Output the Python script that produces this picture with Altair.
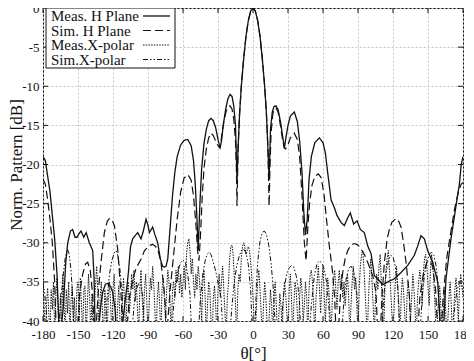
import altair as alt
import pandas as pd

# ---------------- data ----------------
series_names = ["Meas. H Plane", "Sim. H Plane", "Meas.X-polar", "Sim.X-polar"]
x_ticks = [-180, -150, -120, -90, -60, -30, 0, 30, 60, 90, 120, 150, 180]
y_ticks = [-40, -35, -30, -25, -20, -15, -10, -5, 0]

# Measured H-plane (theta deg, dB)
meas_h = [
    (-180, -19.0), (-178, -19.5), (-176, -21.5), (-174, -23.5), (-172, -26.5), (-170, -29.5),
    (-168, -34), (-166.5, -40), (-165, -42), (-162.5, -38), (-160.5, -32.5), (-158.8, -30),
    (-156.5, -28.5), (-154.6, -28.3), (-152.5, -29.3), (-150.8, -29.3), (-149, -28.8),
    (-147.4, -28.5), (-145.1, -29.3), (-143, -28.7), (-140.3, -30), (-137.4, -31),
    (-136.2, -34.6), (-135.2, -42), (-133, -42), (-130.5, -38), (-128.8, -36.3), (-126.5, -35.3),
    (-124.6, -35.2), (-122, -35.6), (-120.3, -36.3), (-118.3, -38.4), (-117, -42), (-113, -42),
    (-110, -38), (-108, -35.5), (-106.8, -33.8), (-105, -30.5), (-103.1, -29.5), (-100.5, -29),
    (-98.8, -28.7), (-96, -29.5), (-94, -28.5), (-91.7, -27), (-90, -27.8), (-88.8, -28.7),
    (-86, -28), (-84, -29), (-81.7, -30), (-79.4, -32.1), (-77.5, -33), (-76, -33.1),
    (-74.5, -33), (-73, -32), (-71, -28), (-69, -24), (-67, -21), (-65, -19), (-62, -17.5),
    (-59, -16.9), (-56, -16.8), (-53, -17.6), (-51, -19.5), (-49.5, -22.5), (-48, -27),
    (-47, -31), (-45.5, -25), (-44, -20.5), (-42, -17.3), (-40, -15.5), (-38, -14.4),
    (-36, -14.1), (-34, -14.4), (-32, -15.3), (-30, -16.8), (-28.3, -17.9), (-27, -17),
    (-25.5, -15), (-23.5, -13), (-21.5, -11.6), (-19.7, -11.05), (-18, -11.3), (-16.5, -12.5),
    (-15, -15), (-13.7, -22), (-12.8, -18), (-11.5, -13.5), (-10, -10), (-8, -6.5), (-6, -3.6),
    (-4, -1.6), (-2, -0.4), (0, 0), (2, -0.4), (4, -1.6), (6, -3.6), (8, -6.5), (10, -10),
    (11.5, -13.5), (12.8, -18), (13.8, -22), (15, -15.5), (16.5, -13.3), (18, -12.6),
    (19.7, -12.5), (21.5, -13), (23.5, -14.5), (25.5, -16.5), (26.9, -17.9), (28, -16.8),
    (30, -15), (32, -13.8), (35.4, -13.3), (38, -14.5), (40, -17), (42, -21), (43.5, -26),
    (45, -29), (46.5, -27), (48, -22), (50, -19), (53, -17.2), (56.9, -16.6), (60, -17.2),
    (62, -18.5), (64, -21), (66.9, -24.5), (69.7, -25.5), (72, -26.5), (75.4, -27.4),
    (78.3, -27.8), (81.2, -26.8), (83.4, -26.2), (86.3, -27.6), (89.2, -27.2), (92, -28.3),
    (95.4, -28.7), (98.3, -30.4), (101.2, -31.4), (104, -34.2), (106.9, -34.6), (111.2, -35.4),
    (115.4, -35), (121.2, -34.6), (126.9, -33.8), (132.6, -32.9), (138.3, -31.6), (141, -30.5),
    (144, -29.1), (146.9, -29.5), (149.7, -31), (154, -32.5), (158.3, -35), (161.2, -42),
    (163, -42), (165.4, -34.6), (169.7, -29.5), (174, -25.3), (176.9, -22.5), (178.5, -20),
    (180, -19),
]

# Simulated H-plane
sim_h = [
    (-180, -21.9), (-178, -22.5), (-176, -24.5), (-174, -27), (-172, -30), (-170, -35),
    (-168.5, -42), (-150, -42), (-148.8, -36.7), (-146, -34), (-143.5, -32.7), (-141.7, -32.5),
    (-139.5, -33.5), (-137.4, -36.7), (-136, -42), (-135, -42), (-132.5, -36), (-130.3, -32.5),
    (-127.4, -28.7), (-125, -27.3), (-123.1, -26.9), (-121, -27.1), (-118.8, -27.8),
    (-116, -30.8), (-113.1, -36.7), (-111.5, -42), (-108.5, -42), (-106, -37), (-103.1, -34.6),
    (-100, -33.2), (-96, -32.1), (-93, -31), (-90.3, -30.6), (-88, -30.3), (-86, -30.2),
    (-84, -30.4), (-81.7, -30.8), (-78.9, -32.5), (-76.5, -35.5), (-75, -38.4), (-74, -42),
    (-71, -36), (-68, -31.5), (-65, -27), (-62, -23.5), (-59, -21.7), (-55.7, -21.3),
    (-53, -22), (-51, -24), (-49, -27.5), (-47.5, -31), (-46.3, -32.3), (-45, -29),
    (-43.5, -24), (-42, -20.5), (-40, -18), (-38, -16.6), (-36, -16), (-34, -16.3),
    (-32, -17), (-30, -17.6), (-28.3, -17.9), (-27, -16.5), (-25, -14.5), (-23, -13.2),
    (-21, -12.6), (-19.7, -12.5), (-18, -12.9), (-16.5, -14.2), (-15, -17), (-14.3, -20),
    (-13.7, -25.3), (-12.8, -18), (-11.5, -13.5), (-10, -10), (-8, -6.5), (-6, -3.6),
    (-4, -1.6), (-2, -0.4), (0, 0), (2, -0.4), (4, -1.6), (6, -3.6), (8, -6.5), (10, -10),
    (11.5, -13.5), (12.8, -18), (13.8, -25.3), (14.6, -20), (15.5, -16), (17, -13.5),
    (18.5, -12.9), (19.7, -12.8), (21.5, -13.3), (23.5, -15), (25.5, -17), (26.9, -17.9),
    (28, -18), (30, -17.5), (32, -16.6), (35.4, -16), (38, -16.8), (40, -19), (42, -24),
    (44, -30), (45.5, -32.3), (47, -28), (48.5, -25), (50.5, -22.7), (53, -21.5), (56, -21.2),
    (58.5, -21.7), (61, -24), (63, -27), (65.5, -30.5), (68, -33.5), (70, -37), (71.3, -42),
    (73, -42), (75, -36.5), (76.9, -33.8), (79, -32), (81.2, -31), (84, -30.3), (86.9, -30.1),
    (90, -30.3), (92.6, -30.8), (95.5, -31.5), (98.3, -32.5), (102.6, -34.2), (105.4, -36.3),
    (107, -42), (109, -42), (110.5, -37), (112.6, -32.5), (115, -29.5), (116.9, -28.3),
    (119, -27.4), (122.6, -26.9), (125, -27.3), (126.9, -28), (129, -30), (131.2, -32.5),
    (134, -36.7), (135.5, -42), (141, -42), (143, -37), (146, -34), (149, -32.5),
    (151.5, -32.3), (154, -33), (156.5, -36), (158.5, -42), (161, -42), (163, -37),
    (166, -32), (169.7, -28.5), (173, -25.5), (176, -23.5), (178.5, -22.5), (180, -22.3),
]

# Measured cross-polar
meas_x_theta = list(range(-180, 181))
meas_x_db = [
    -35.5, -38, -42, -37.8, -35.8, -39, -42, -36, -38.5, -35,       # -180..-171
    -42, -37, -34.5, -39, -42, -36.5, -41, -34, -37.5, -42,          # -170..-161
    -36, -39, -35, -42, -37.5, -35.5, -40, -37, -42, -36,            # -160..-151
    -35, -40, -34.5, -38, -42, -36, -35.5, -42, -38, -34,            # -150..-141
    -37, -42, -36.5, -42, -38, -35.5, -33, -36, -42, -37,            # -140..-131
    -35, -39, -42, -36, -38.5, -42, -37, -35, -38, -42,              # -130..-121
    -36, -34, -37.5, -42, -38, -35.5, -40, -42, -37, -34.5,          # -120..-111
    -38, -42, -36.5, -35, -39, -37, -34, -36, -33.5, -37.5,          # -110..-101
    -35, -38.5, -42, -36, -33.5, -37, -40, -36, -34, -37.5,          # -100..-91
    -42, -38, -34.5, -36, -33, -35.5, -39, -42, -37, -35,            # -90..-81
    -38, -42, -36, -34.5, -37, -40, -36, -33.5, -35, -38,            # -80..-71
    -42, -36, -35, -37, -33.5, -35, -33, -36.5, -34, -37,            # -70..-61
    -35, -33, -36, -31.5, -30, -29.5, -31, -34, -32, -35,            # -60..-51
    -37, -34, -36, -33, -34.5, -37, -40, -35, -33.5, -37,            # -50..-41
    -42, -38, -35, -36, -40, -42, -37, -35.5, -38, -42,              # -40..-31
    -36, -34, -37, -35, -33, -36, -39, -42, -37, -35,                # -30..-21
    -32, -30.5, -30.3, -31.5, -34.5, -38, -42, -36, -34, -35,        # -20..-11
    -32, -30.5, -30, -30.5, -31.5, -31, -30.5, -31, -32.5, -34.5,    # -10..-1
    -37, -40, -42, -38, -35, -33.5, -36, -39, -42, -38,              # 0..9
    -35, -37, -40, -42, -39, -36, -38, -42, -37, -35,                # 10..19
    -38, -42, -40, -36.5, -38, -42, -37, -35, -36.5, -39,            # 20..29
    -42, -36, -34, -37, -42, -38, -35, -36, -39, -42,                # 30..39
    -37, -34.5, -36, -40, -38, -35, -37, -42, -36, -34,              # 40..49
    -33.5, -35, -38, -42, -37, -35, -33, -36, -39, -35,              # 50..59
    -33, -36.5, -40, -37, -34.5, -36, -39, -42, -37, -35,            # 60..69
    -33.5, -36, -38.5, -35, -33.5, -36, -34, -37, -35, -38,          # 70..79
    -36, -34, -37, -42, -38, -35, -33, -36, -34.5, -38,              # 80..89
    -42, -36, -33, -31.5, -31, -33, -36, -39, -42, -37,              # 90..99
    -34, -32, -35, -38, -42, -37, -34, -36, -33, -31.5,              # 100..109
    -35, -38, -42, -36, -33.5, -32, -31, -33.5, -36, -39,            # 110..119
    -42, -38, -35, -33, -35.5, -38, -42, -37, -34.5, -36,            # 120..129
    -39, -42, -37, -35, -36.5, -40, -37, -34, -36, -39,              # 130..139
    -42, -37, -35, -33.5, -35, -38, -34, -32, -31.5, -33,            # 140..149
    -35.5, -38, -34, -31.5, -32.5, -35, -38, -42, -40, -37,          # 150..159
    -35.5, -38, -42, -39, -36, -38, -42, -40, -37, -35,              # 160..169
    -38, -42, -39, -36, -34.5, -37, -40, -36, -34, -35.5,            # 170..179
    -37,                                                              # 180
]

# Simulated cross-polar
sim_x = [
    (-180, -35), (-178.5, -36.5), (-177, -39), (-176, -42), (-167, -42), (-165, -38),
    (-163, -34.5), (-161, -32), (-159, -30.8), (-157.5, -31.5), (-156, -33.5), (-154.5, -37),
    (-153.5, -42), (-127, -42), (-125, -37), (-123, -34), (-121, -32.3), (-119, -31.3),
    (-117.4, -31), (-116, -31.5), (-114, -33.5), (-112, -37), (-111, -42), (-104, -42),
    (-102, -38), (-100, -36), (-98, -35.2), (-96, -35.5), (-94, -37.5), (-93, -42),
    (-70, -42), (-68, -38), (-66, -35.5), (-64, -33.5), (-62, -32.5), (-60, -32.2),
    (-58, -32.5), (-56, -34), (-54, -36.5), (-52.5, -42), (-47, -42), (-45, -37), (-43, -34),
    (-41, -32.3), (-39, -31.4), (-37.4, -31.2), (-36, -31.5), (-34, -32.5), (-31.7, -33.8),
    (-29.5, -35.5), (-27.4, -37), (-25.5, -42), (-20, -42), (-18, -38), (-16, -35),
    (-14, -33), (-12, -31.8), (-10, -31), (-8, -30.8), (-6, -31.3), (-4, -32.8), (-2, -36),
    (-0.5, -42), (1.5, -42), (3, -35), (4, -32.5), (6, -29.8), (8, -28.7), (9.7, -28.5),
    (11.5, -28.9), (13.5, -30.3), (15.4, -32.5), (17.5, -36), (19.5, -42), (24, -42),
    (25.5, -38), (27, -35.5), (29, -34), (31, -33.2), (33, -32.9), (35, -33.1), (37, -34.2),
    (38.5, -35.5), (40, -38), (41, -42), (48, -42), (50, -38), (52.6, -34.2), (55, -32.6),
    (56.9, -32.3), (59, -32.6), (61, -33.3), (63, -35), (65, -38), (66, -42), (76, -42),
    (78, -37), (80, -34.5), (82, -33.3), (84, -33), (86, -33.5), (88, -35), (90, -38),
    (91, -42), (110, -42), (112, -37), (114, -34), (116, -32.3), (118, -31.6), (120, -31.8),
    (122, -33), (124, -35.5), (126, -42), (143, -42), (145, -37), (147, -34), (149, -32.5),
    (151, -31.5), (153, -31.2), (155, -31.6), (157, -33), (159, -36), (160.5, -42),
    (171, -42), (173, -38), (175, -36), (177, -35), (179, -35.5), (180, -36),
]

# ---------------- styling ----------------
W, H = 420, 313
FONT = "Liberation Serif"
INK = "#111111"
GRID = "#c6c6c6"

xscale = alt.Scale(domain=[-180, 180], nice=False, zero=False)
yscale = alt.Scale(domain=[-40, 0], nice=False, zero=False)

xaxis = alt.Axis(
    values=x_ticks, labelExpr="'' + datum.value", title="θ[°]", grid=True, gridColor=GRID,
    gridDash=[2, 2], gridWidth=1, domain=False, ticks=False, labelFont=FONT,
    labelFontSize=13, labelColor=INK, labelPadding=7, labelFlush=False, labelOverlap=False,
    titleFont=FONT, titleFontSize=17, titleFontWeight="normal", titleColor=INK,
    titleY=37, titleBaseline="alphabetic",
)
yaxis = alt.Axis(
    values=y_ticks, labelExpr="'' + datum.value", title="Norm. Pattern [dB]", grid=True,
    gridColor=GRID, gridDash=[2, 2], gridWidth=1, domain=False, ticks=False, labelFont=FONT,
    labelFontSize=13, labelColor=INK, labelPadding=4, labelOverlap=False,
    titleFont=FONT, titleFontSize=17, titleFontWeight="normal", titleColor=INK,
    titleAngle=270, titleX=-35, titleY=H / 2, titleBaseline="top", titleAlign="center",
)

X_ENC = dict(scale=xscale, axis=xaxis)
Y_ENC = dict(scale=yscale, axis=yaxis)


def frame(pairs):
    return pd.DataFrame({"theta": [p[0] for p in pairs], "db": [p[1] for p in pairs],
                         "i": list(range(len(pairs)))})


def line(df, width, dash=None):
    kw = dict(color=INK, strokeWidth=width, clip=True)
    if dash is not None:
        kw["strokeDash"] = dash
    return alt.Chart(df).mark_line(**kw).encode(
        x=alt.X("theta:Q", **X_ENC),
        y=alt.Y("db:Q", **Y_ENC),
        order="i:Q",
    )


dashes = [None, [8, 4], [1.5, 1.2], [5, 2, 1.5, 2, 1.5, 2]]
widths = [1.3, 1.2, 1.0, 1.0]

df_mh = frame(meas_h)
df_sh = frame(sim_h)
df_mx = pd.DataFrame({"theta": meas_x_theta, "db": meas_x_db, "i": list(range(len(meas_x_db)))})
df_sx = frame(sim_x)

layers = [
    line(df_mh, widths[0], dashes[0]),
    line(df_sh, widths[1], dashes[1]),
    line(df_mx, widths[2], dashes[2]),
    line(df_sx, widths[3], dashes[3]),
]

# inward tick marks on all four sides
df_xt = pd.DataFrame({"theta": x_ticks})
df_yt = pd.DataFrame({"db": y_ticks})
for y0, y1 in [(0, 5), (H - 5, H)]:
    layers.append(alt.Chart(df_xt).mark_rule(color=INK, strokeWidth=1).encode(
        x=alt.X("theta:Q", **X_ENC), y=alt.value(y0), y2=alt.value(y1)))
for x0, x1 in [(0, 5), (W - 5, W)]:
    layers.append(alt.Chart(df_yt).mark_rule(color=INK, strokeWidth=1).encode(
        y=alt.Y("db:Q", **Y_ENC), x=alt.value(x0), x2=alt.value(x1)))

# legend box (top-left, inside the plot)
legend_rows_y = [8, 22.5, 37, 51.5]
layers.append(alt.Chart(pd.DataFrame({"a": [0]})).mark_rect(
    fill="white", stroke=INK, strokeWidth=1).encode(
    x=alt.value(3), x2=alt.value(132), y=alt.value(0), y2=alt.value(60)))
for k, name in enumerate(series_names):
    dfl = pd.DataFrame({"name": [name]})
    layers.append(alt.Chart(dfl).mark_text(
        font=FONT, fontSize=15, color=INK, align="left", baseline="middle").encode(
        x=alt.value(8), y=alt.value(legend_rows_y[k]), text="name:N"))
    kw = dict(color=INK, strokeWidth=widths[k])
    if dashes[k] is not None:
        kw["strokeDash"] = dashes[k]
    layers.append(alt.Chart(dfl).mark_rule(**kw).encode(
        x=alt.value(100), x2=alt.value(127), y=alt.value(legend_rows_y[k])))

chart = alt.layer(*layers).properties(
    width=W, height=H,
    autosize=alt.AutoSizeParams(type="none"),
    padding={"left": 35, "top": 0, "right": 3, "bottom": 42},
    background="white",
).configure_view(stroke=INK, strokeWidth=1).configure_axis(
    labelFont=FONT, titleFont=FONT, labelFontSize=13
).configure_text(font=FONT)

chart.save("out.html", embed_options={"renderer": "svg", "actions": False})
